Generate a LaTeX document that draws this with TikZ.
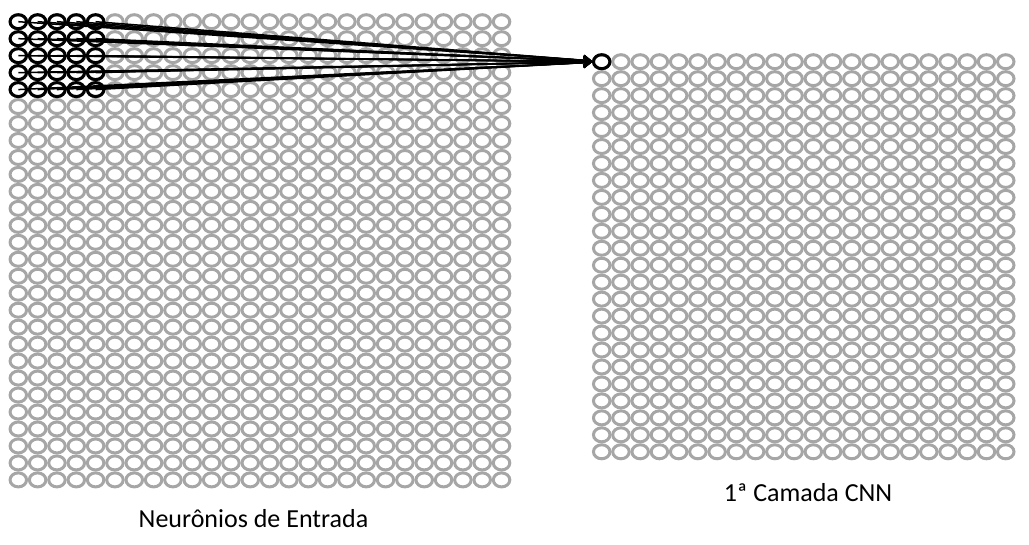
\documentclass[tikz,border=0pt]{standalone}
\usepackage{fontspec}
\setmainfont{Carlito}
\usetikzlibrary{shapes.geometric,arrows.meta}
\definecolor{neurongray}{RGB}{166,166,166}
\tikzset{
    neuron/.style={draw=neurongray, ellipse, line width=3pt, inner sep=0pt,
        minimum width=16.5pt, minimum height=14pt},
    active/.style={neuron, draw=black},
    conn/.style={line width=1.5pt, -{Straight Barb[length=7pt,width=10pt]}},
    caption/.style={font=\fontsize{26}{30}\selectfont}
}
\begin{document}
\begin{tikzpicture}[x=1pt, y=-1pt]
    \useasboundingbox (0,0) rectangle (1029,544);

    % input neurons 26 x 28
    \foreach \i in {1,...,26}
        \foreach \j in {1,...,28}
            \node[neuron] (in-\i-\j) at ({18.3+19.33*(\i-1)},{21.7+16.97*(\j-1)}) {};
    % first CNN layer 22 x 24
    \foreach \i in {1,...,22}
        \foreach \j in {1,...,24}
            \node[neuron] (out-\i-\j) at ({601.7+19.24*(\i-1)},{61.7+16.96*(\j-1)}) {};

    % 5x5 receptive field and its target
    \foreach \i in {1,...,5}
        \foreach \j in {1,...,5}
            \node[active] (k-\i-\j) at (in-\i-\j) {};
    \node[active] (target) at (out-1-1) {};

    \foreach \i in {1,...,5}
        \foreach \j in {1,...,5}
            \draw[conn] (k-\i-\j.center) -- (target);

    \node[caption] (inlabel) at (253.5,519) {Neurônios de Entrada};
    \node[caption] (outlabel) at (808,493) {1ª Camada CNN};
\end{tikzpicture}
\end{document}
